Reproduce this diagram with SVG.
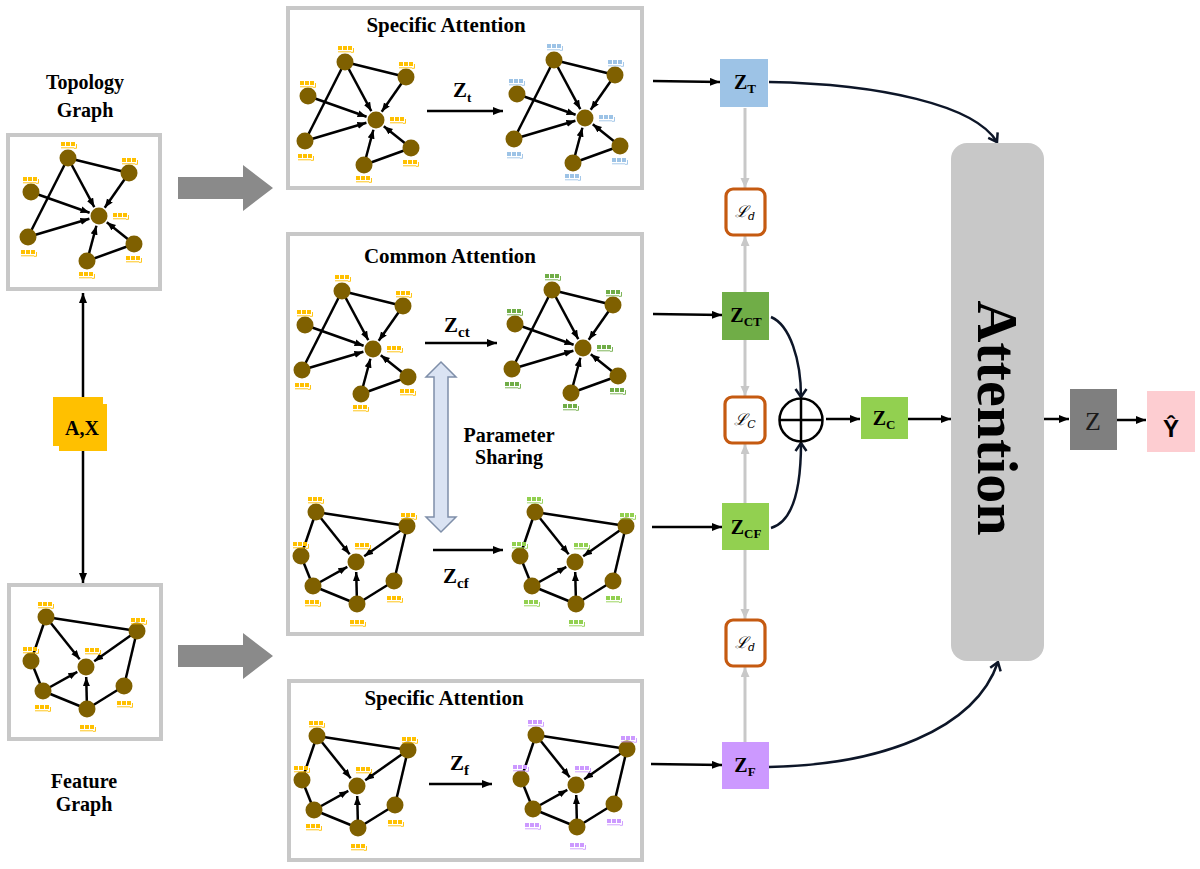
<svg xmlns="http://www.w3.org/2000/svg" xmlns:xlink="http://www.w3.org/1999/xlink" width="1200" height="869" viewBox="0 0 1200 869">
<style>
.t{font-family:"Liberation Serif","Times New Roman",serif;font-weight:bold;fill:#000}
.ttl{font-size:21px;text-anchor:middle}
.lt{font-size:20px;text-anchor:middle}
.e line{stroke:#000;stroke-width:2.5}
.e .a{marker-end:url(#ah)}
.n circle{fill:#7F6000}
.ic rect{fill:currentColor}
.box{fill:#fff;stroke:#C8C8C8;stroke-width:4}
.gl{stroke:#C8C8C8;stroke-width:3;marker-end:url(#ahg)}
.bl{stroke:#000;stroke-width:2.5;marker-end:url(#ahb)}
.cv{fill:none;stroke:#0d1628;stroke-width:2.5;marker-end:url(#av)}
.lb{fill:#fff;stroke:#C55A11;stroke-width:3.2}
.zl{font-size:21px}
.zb{font-size:20px;text-anchor:middle}
.sub{font-size:13px}
.lsc{font-family:"DejaVu Serif","Liberation Serif",serif;font-style:italic;font-size:16px;text-anchor:middle;fill:#000}
</style>
<defs>
<marker id="ah" markerUnits="userSpaceOnUse" markerWidth="10" markerHeight="8" refX="9" refY="3.5" orient="auto"><path d="M0,0L9,3.5L0,7z" fill="#000"/></marker>
<marker id="ahb" markerUnits="userSpaceOnUse" markerWidth="11" markerHeight="9" refX="10" refY="4" orient="auto"><path d="M0,0L10,4L0,8z" fill="#000"/></marker>
<marker id="ahg" markerUnits="userSpaceOnUse" markerWidth="11" markerHeight="10" refX="10" refY="4.5" orient="auto"><path d="M0,0L10,4.5L0,9z" fill="#C8C8C8"/></marker>
<marker id="av" markerUnits="userSpaceOnUse" markerWidth="14" markerHeight="14" refX="11" refY="7" orient="auto"><path d="M3,1.5L11,7L3,12.5" fill="none" stroke="#0d1628" stroke-width="2.5"/></marker>
<g id="ic" class="ic"><rect x="0" y="0" width="4" height="4"/><rect x="5" y="0" width="4" height="4"/><rect x="10" y="0" width="4" height="4"/><path d="M0,5.8H13M15.5,2V6.3H13" fill="none" stroke="currentColor" stroke-width="0.9"/></g>
<g id="topo">
 <g class="e">
  <line x1="68" y1="158" x2="129" y2="173"/>
  <line x1="68" y1="158" x2="28" y2="237"/>
  <line x1="87" y1="261" x2="134" y2="244"/>
  <line class="a" x1="68" y1="158" x2="94.3" y2="207.2"/>
  <line class="a" x1="129" y1="173" x2="104.7" y2="207.8"/>
  <line class="a" x1="31" y1="192" x2="89.6" y2="212.7"/>
  <line class="a" x1="28" y1="237" x2="89.4" y2="218.8"/>
  <line class="a" x1="87" y1="261" x2="96.4" y2="225.7"/>
  <line class="a" x1="134" y1="244" x2="106.8" y2="222.2"/>
 </g>
 <g class="n">
  <circle cx="68" cy="158" r="8.5"/><circle cx="129" cy="173" r="8.5"/><circle cx="31" cy="192" r="8.5"/>
  <circle cx="99" cy="216" r="8.5"/><circle cx="28" cy="237" r="8.5"/><circle cx="134" cy="244" r="8.5"/>
  <circle cx="87" cy="261" r="8.5"/>
 </g>
 <use href="#ic" x="61" y="142"/><use href="#ic" x="122" y="158"/><use href="#ic" x="23" y="177"/>
 <use href="#ic" x="113" y="213"/><use href="#ic" x="21" y="250"/><use href="#ic" x="126" y="256"/>
 <use href="#ic" x="79" y="272"/>
</g>
<g id="feat">
 <g class="e">
  <line x1="46" y1="617" x2="137" y2="631"/>
  <line x1="46" y1="617" x2="31" y2="661"/>
  <line x1="31" y1="661" x2="43" y2="691"/>
  <line x1="43" y1="691" x2="87" y2="709"/>
  <line x1="87" y1="709" x2="124" y2="686"/>
  <line x1="124" y1="686" x2="137" y2="631"/>
  <line class="a" x1="46" y1="617" x2="79.7" y2="659.2"/>
  <line class="a" x1="137" y1="631" x2="94.2" y2="661.2"/>
  <line class="a" x1="43" y1="691" x2="77.3" y2="671.9"/>
  <line class="a" x1="87" y1="709" x2="86.2" y2="677"/>
 </g>
 <g class="n">
  <circle cx="46" cy="617" r="8.5"/><circle cx="137" cy="631" r="8.5"/><circle cx="31" cy="661" r="8.5"/>
  <circle cx="86" cy="667" r="8.5"/><circle cx="43" cy="691" r="8.5"/><circle cx="124" cy="686" r="8.5"/>
  <circle cx="87" cy="709" r="8.5"/>
 </g>
 <use href="#ic" x="38" y="602"/><use href="#ic" x="131" y="618"/><use href="#ic" x="23" y="647"/>
 <use href="#ic" x="85" y="648"/><use href="#ic" x="35" y="705"/><use href="#ic" x="117" y="701"/>
 <use href="#ic" x="80" y="725"/>
</g>
</defs>
<rect width="1200" height="869" fill="#fff"/>

<g id="connectors">
 <line class="bl" x1="83" y1="403" x2="83" y2="293"/>
 <line class="bl" x1="83" y1="451" x2="83" y2="583"/>
 <polygon points="178,177 243,177 243,165 273,188 243,211 243,199 178,199" fill="#8A8A8A"/>
 <polygon points="178,645 243,645 243,633 273,656 243,679 243,667 178,667" fill="#8A8A8A"/>
 <line class="bl" x1="653" y1="81" x2="720" y2="82"/>
 <line class="bl" x1="653" y1="314" x2="722" y2="315"/>
 <line class="bl" x1="652" y1="527" x2="722" y2="527"/>
 <line class="bl" x1="651" y1="764" x2="722" y2="765"/>
 <line class="gl" x1="745" y1="108" x2="745" y2="188"/>
 <line class="gl" x1="745" y1="292" x2="745" y2="236"/>
 <line class="gl" x1="745" y1="340" x2="745" y2="396"/>
 <line class="gl" x1="745" y1="503" x2="745" y2="444"/>
 <line class="gl" x1="745" y1="550" x2="745" y2="619"/>
 <line class="gl" x1="745" y1="742" x2="745" y2="667"/>
 <path class="cv" d="M771 317 C790 325,801 360,801 397"/>
 <path class="cv" d="M771 528 C792 522,801 490,801 443"/>
 <path class="cv" d="M769 82 C880 84,975 105,997 142"/>
 <path class="cv" d="M769 767 C880 765,975 730,998 662"/>
 <line class="bl" x1="826" y1="419" x2="860" y2="419"/>
 <line class="bl" x1="908" y1="419" x2="951" y2="419"/>
 <line class="bl" x1="1044" y1="419" x2="1069" y2="419"/>
 <line class="bl" x1="1117" y1="420" x2="1146" y2="420"/>
</g>

<g id="topology-graph">
 <text class="t lt" x="85" y="89">Topology</text>
 <text class="t lt" x="85" y="117">Graph</text>
 <rect class="box" x="8" y="135" width="152" height="154"/>
 <use href="#topo" color="#FFC000"/>
</g>

<g id="feature-graph">
 <rect class="box" x="9" y="585" width="152" height="154"/>
 <use href="#feat" color="#FFC000"/>
 <text class="t lt" x="84" y="788">Feature</text>
 <text class="t lt" x="84" y="811">Graph</text>
</g>

<g id="input-AX">
 <rect x="53" y="397" width="50" height="49" fill="#FFC000"/>
 <rect x="59" y="404" width="48" height="47" fill="#FFC000"/>
 <text class="t" x="82" y="435" font-size="20" text-anchor="middle">A,X</text>
</g>

<g id="specific-attention-top">
 <rect class="box" x="288" y="8" width="354" height="180"/>
 <text class="t ttl" x="446" y="32">Specific Attention</text>
 <use href="#topo" transform="translate(277,-96)" color="#FFC000"/>
 <use href="#topo" transform="translate(486,-98)" color="#9DC3E6"/>
 <text class="t zl" x="453" y="97">Z<tspan class="sub" font-size="14" dy="5">t</tspan></text>
 <line class="bl" x1="427" y1="111" x2="503" y2="111"/>
</g>

<g id="common-attention">
 <rect class="box" x="288" y="234" width="354" height="400"/>
 <text class="t ttl" x="450" y="263">Common Attention</text>
 <use href="#topo" transform="translate(274,133)" color="#FFC000"/>
 <use href="#topo" transform="translate(484,132)" color="#70AD47"/>
 <use href="#feat" transform="translate(270,-105)" color="#FFC000"/>
 <use href="#feat" transform="translate(489,-105)" color="#92D050"/>
 <text class="t zl" x="444" y="332">Z<tspan font-size="15" dy="5">ct</tspan></text>
 <line class="bl" x1="425" y1="343" x2="497" y2="343"/>
 <text class="t zl" x="443" y="583">Z<tspan font-size="15" dy="5">cf</tspan></text>
 <line class="bl" x1="433" y1="550" x2="503" y2="550"/>
 <polygon points="441,362 456,377 448,377 448,517 456,517 441,532 426,517 434,517 434,377 426,377" fill="#DAE3F3" stroke="#7F8FA9" stroke-width="1.5"/>
 <text class="t" x="509" y="442" font-size="20" text-anchor="middle">Parameter</text>
 <text class="t" x="509" y="464" font-size="20" text-anchor="middle">Sharing</text>
</g>

<g id="specific-attention-bottom">
 <rect class="box" x="289" y="681" width="353" height="179"/>
 <text class="t ttl" x="444" y="705">Specific Attention</text>
 <use href="#feat" transform="translate(271,119)" color="#FFC000"/>
 <use href="#feat" transform="translate(490,118)" color="#CC99FF"/>
 <text class="t zl" x="450" y="770">Z<tspan font-size="15" dy="5">f</tspan></text>
 <line class="bl" x1="429" y1="784" x2="492" y2="784"/>
</g>

<g id="ZT">
 <rect x="720" y="59" width="48" height="48" fill="#9DC3E6"/>
 <text class="t zb" x="745" y="89">Z<tspan class="sub" dy="4">T</tspan></text>
</g>
<g id="Ld-top">
 <rect class="lb" x="726" y="189" width="39" height="46" rx="7"/>
 <text class="lsc" x="745" y="217">ℒ<tspan font-size="11" dy="3">d</tspan></text>
</g>
<g id="ZCT">
 <rect x="722" y="292" width="47" height="48" fill="#70AD47"/>
 <text class="t zb" x="746" y="322">Z<tspan class="sub" dy="4">CT</tspan></text>
</g>
<g id="LC">
 <rect class="lb" x="725" y="397" width="40" height="46" rx="7"/>
 <text class="lsc" x="745" y="425">ℒ<tspan font-size="11" dy="3">C</tspan></text>
</g>
<g id="ZCF">
 <rect x="722" y="503" width="47" height="47" fill="#92D050"/>
 <text class="t zb" x="746" y="534">Z<tspan class="sub" dy="4">CF</tspan></text>
</g>
<g id="Ld-bottom">
 <rect class="lb" x="726" y="620" width="39" height="46" rx="7"/>
 <text class="lsc" x="745" y="648">ℒ<tspan font-size="11" dy="3">d</tspan></text>
</g>
<g id="ZF">
 <rect x="722" y="742" width="47" height="47" fill="#CC99FF"/>
 <text class="t zb" x="745" y="772">Z<tspan class="sub" dy="4">F</tspan></text>
</g>
<g id="oplus">
 <circle cx="801" cy="420" r="21.5" fill="#fff" stroke="#000" stroke-width="2.5"/>
 <line x1="801" y1="398.5" x2="801" y2="441.5" stroke="#000" stroke-width="2.5"/>
 <line x1="779.5" y1="420" x2="822.5" y2="420" stroke="#000" stroke-width="2.5"/>
</g>
<g id="ZC">
 <rect x="861" y="397" width="47" height="42" fill="#92D050"/>
 <text class="t zb" x="884" y="425">Z<tspan class="sub" dy="4">C</tspan></text>
</g>
<g id="attention">
 <rect x="951" y="143" width="93" height="518" rx="16" fill="#C8C8C8"/>
 <text class="t" transform="translate(978,418) rotate(90)" font-size="58" text-anchor="middle">Attention</text>
</g>
<g id="Z">
 <rect x="1070" y="389" width="47" height="61" fill="#7F7F7F"/>
 <text x="1093" y="430" font-family="Liberation Serif, serif" font-size="26" text-anchor="middle" fill="#1a1a1a">Z</text>
</g>
<g id="Yhat">
 <rect x="1147" y="391" width="48" height="61" fill="#FDCDD1"/>
 <text x="1171" y="437" font-family="Liberation Sans, Arial, sans-serif" font-weight="bold" font-size="24" text-anchor="middle" fill="#000">Ŷ</text>
</g>
</svg>
